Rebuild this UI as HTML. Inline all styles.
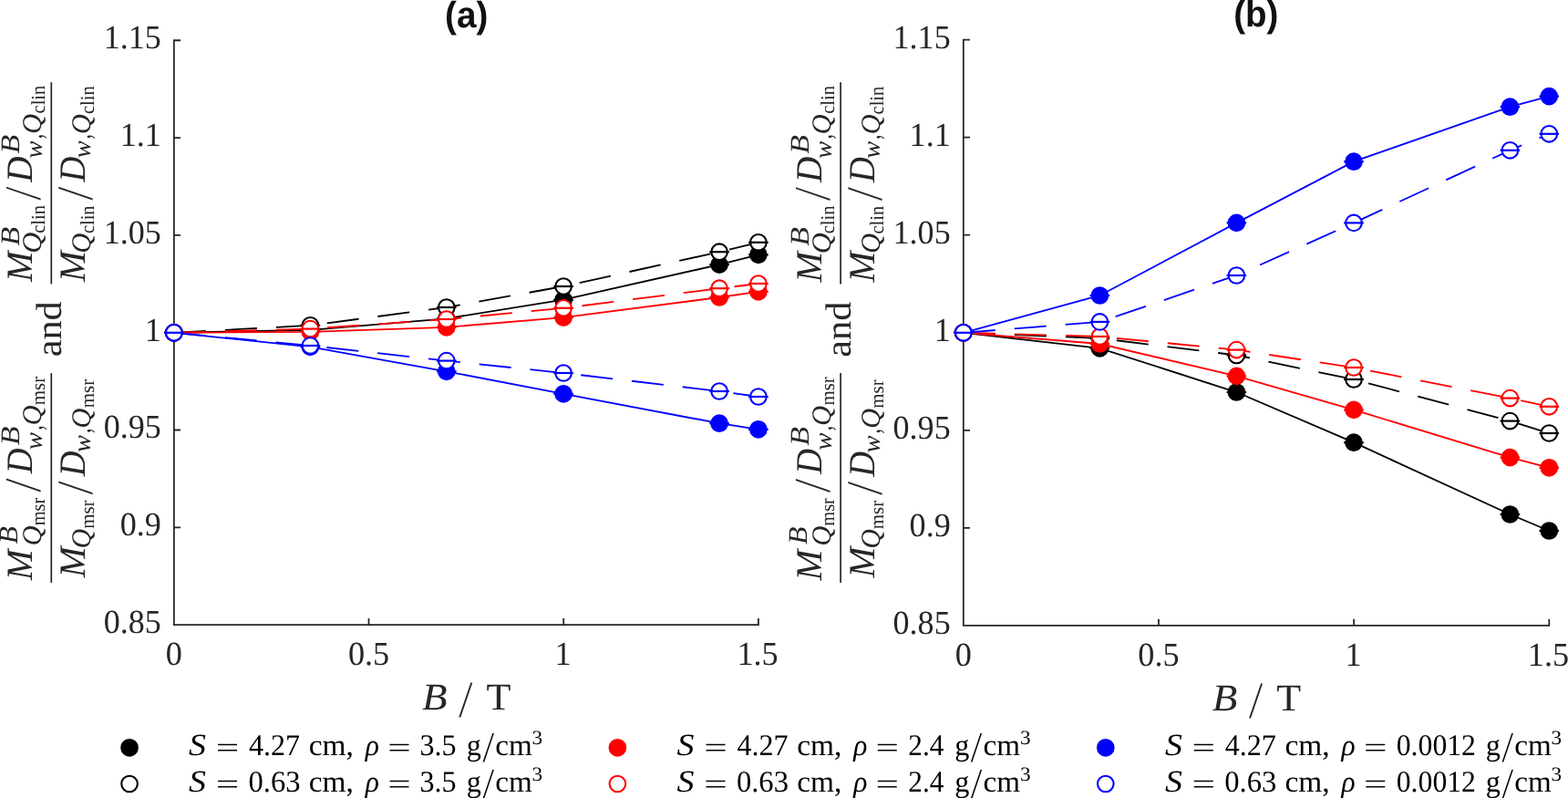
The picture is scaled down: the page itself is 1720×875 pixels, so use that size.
<!DOCTYPE html>
<html lang="en">
<head>
<meta charset="utf-8">
<title>Figure</title>
<style>
html,body{margin:0;padding:0;background:#fff;}
body{width:1720px;height:875px;overflow:hidden;}
svg{display:block;}
text{white-space:pre;text-rendering:geometricPrecision;}
.r{font-family:"Liberation Serif","DejaVu Serif",serif;}
.i{font-family:"Liberation Serif","DejaVu Serif",serif;font-style:italic;}
.b{font-family:"Liberation Sans","DejaVu Sans",sans-serif;font-weight:bold;}
</style>
</head>
<body>
<svg width="1720" height="875" viewBox="0 0 1720 875">
<rect width="1720" height="875" fill="#fff"/>
<g id="panel-a">
<path d="M198.05 44.25H190.85V685.1H831.9V677.9M190.85 151.06h7.2M190.85 257.87h7.2M190.85 364.68h7.2M190.85 471.48h7.2M190.85 578.29h7.2M404.53 685.1v-7.2M618.22 685.1v-7.2" fill="none" stroke="#262626" stroke-width="1.8" stroke-linejoin="miter"/>
<g stroke="#000000" fill="#000000">
<polyline points="190.85,364.8 340.4,361.8 489.8,349.3 618.1,328.7 789.1,290.1 831.9,279.3" fill="none" stroke-width="1.85"/>
<circle cx="190.85" cy="364.8" r="8.8" stroke-width="2.1"/>
<path d="M180.05 364.8h21.6" stroke-width="2.2"/>
<circle cx="340.4" cy="361.8" r="8.8" stroke-width="2.1"/>
<path d="M329.6 361.8h21.6" stroke-width="2.2"/>
<circle cx="489.8" cy="349.3" r="8.8" stroke-width="2.1"/>
<path d="M479 349.3h21.6" stroke-width="2.2"/>
<circle cx="618.1" cy="328.7" r="8.8" stroke-width="2.1"/>
<path d="M607.3 328.7h21.6" stroke-width="2.2"/>
<circle cx="789.1" cy="290.1" r="8.8" stroke-width="2.1"/>
<path d="M778.3 290.1h21.6" stroke-width="2.2"/>
<circle cx="831.9" cy="279.3" r="8.8" stroke-width="2.1"/>
<path d="M821.1 279.3h21.6" stroke-width="2.2"/>
</g>
<g stroke="#000000" fill="#fff">
<polyline points="190.85,364.8 340.4,356.8 489.8,337 618.1,314 789.1,276.2 831.9,265.8" fill="none" stroke-width="1.85" stroke-dasharray="35.1 21"/>
<circle cx="190.85" cy="364.8" r="8.8" stroke-width="2.1"/>
<path d="M180.05 364.8h21.6" stroke-width="2.2"/>
<circle cx="340.4" cy="356.8" r="8.8" stroke-width="2.1"/>
<path d="M329.6 356.8h21.6" stroke-width="2.2"/>
<circle cx="489.8" cy="337" r="8.8" stroke-width="2.1"/>
<path d="M479 337h21.6" stroke-width="2.2"/>
<circle cx="618.1" cy="314" r="8.8" stroke-width="2.1"/>
<path d="M607.3 314h21.6" stroke-width="2.2"/>
<circle cx="789.1" cy="276.2" r="8.8" stroke-width="2.1"/>
<path d="M778.3 276.2h21.6" stroke-width="2.2"/>
<circle cx="831.9" cy="265.8" r="8.8" stroke-width="2.1"/>
<path d="M821.1 265.8h21.6" stroke-width="2.2"/>
</g>
<g stroke="#ff0000" fill="#ff0000">
<polyline points="190.85,364.8 340.4,363.8 489.8,358.8 618.1,348.1 789.1,326 831.9,319.8" fill="none" stroke-width="1.85"/>
<circle cx="190.85" cy="364.8" r="8.8" stroke-width="2.1"/>
<path d="M180.05 364.8h21.6" stroke-width="2.2"/>
<circle cx="340.4" cy="363.8" r="8.8" stroke-width="2.1"/>
<path d="M329.6 363.8h21.6" stroke-width="2.2"/>
<circle cx="489.8" cy="358.8" r="8.8" stroke-width="2.1"/>
<path d="M479 358.8h21.6" stroke-width="2.2"/>
<circle cx="618.1" cy="348.1" r="8.8" stroke-width="2.1"/>
<path d="M607.3 348.1h21.6" stroke-width="2.2"/>
<circle cx="789.1" cy="326" r="8.8" stroke-width="2.1"/>
<path d="M778.3 326h21.6" stroke-width="2.2"/>
<circle cx="831.9" cy="319.8" r="8.8" stroke-width="2.1"/>
<path d="M821.1 319.8h21.6" stroke-width="2.2"/>
</g>
<g stroke="#ff0000" fill="#fff">
<polyline points="190.85,364.8 340.4,360.6 489.8,350 618.1,337.8 789.1,316.2 831.9,311" fill="none" stroke-width="1.85" stroke-dasharray="35.1 21"/>
<circle cx="190.85" cy="364.8" r="8.8" stroke-width="2.1"/>
<path d="M180.05 364.8h21.6" stroke-width="2.2"/>
<circle cx="340.4" cy="360.6" r="8.8" stroke-width="2.1"/>
<path d="M329.6 360.6h21.6" stroke-width="2.2"/>
<circle cx="489.8" cy="350" r="8.8" stroke-width="2.1"/>
<path d="M479 350h21.6" stroke-width="2.2"/>
<circle cx="618.1" cy="337.8" r="8.8" stroke-width="2.1"/>
<path d="M607.3 337.8h21.6" stroke-width="2.2"/>
<circle cx="789.1" cy="316.2" r="8.8" stroke-width="2.1"/>
<path d="M778.3 316.2h21.6" stroke-width="2.2"/>
<circle cx="831.9" cy="311" r="8.8" stroke-width="2.1"/>
<path d="M821.1 311h21.6" stroke-width="2.2"/>
</g>
<g stroke="#0000ff" fill="#0000ff">
<polyline points="190.85,364.8 340.4,380.4 489.8,407.3 618.1,431.8 789.1,464.2 831.9,470.8" fill="none" stroke-width="1.85"/>
<circle cx="190.85" cy="364.8" r="8.8" stroke-width="2.1"/>
<path d="M180.05 364.8h21.6" stroke-width="2.2"/>
<circle cx="340.4" cy="380.4" r="8.8" stroke-width="2.1"/>
<path d="M329.6 380.4h21.6" stroke-width="2.2"/>
<circle cx="489.8" cy="407.3" r="8.8" stroke-width="2.1"/>
<path d="M479 407.3h21.6" stroke-width="2.2"/>
<circle cx="618.1" cy="431.8" r="8.8" stroke-width="2.1"/>
<path d="M607.3 431.8h21.6" stroke-width="2.2"/>
<circle cx="789.1" cy="464.2" r="8.8" stroke-width="2.1"/>
<path d="M778.3 464.2h21.6" stroke-width="2.2"/>
<circle cx="831.9" cy="470.8" r="8.8" stroke-width="2.1"/>
<path d="M821.1 470.8h21.6" stroke-width="2.2"/>
</g>
<g stroke="#0000ff" fill="#fff">
<polyline points="190.85,364.8 340.4,379 489.8,395.6 618.1,409 789.1,429 831.9,435" fill="none" stroke-width="1.85" stroke-dasharray="35.1 21"/>
<circle cx="190.85" cy="364.8" r="8.8" stroke-width="2.1"/>
<path d="M180.05 364.8h21.6" stroke-width="2.2"/>
<circle cx="340.4" cy="379" r="8.8" stroke-width="2.1"/>
<path d="M329.6 379h21.6" stroke-width="2.2"/>
<circle cx="489.8" cy="395.6" r="8.8" stroke-width="2.1"/>
<path d="M479 395.6h21.6" stroke-width="2.2"/>
<circle cx="618.1" cy="409" r="8.8" stroke-width="2.1"/>
<path d="M607.3 409h21.6" stroke-width="2.2"/>
<circle cx="789.1" cy="429" r="8.8" stroke-width="2.1"/>
<path d="M778.3 429h21.6" stroke-width="2.2"/>
<circle cx="831.9" cy="435" r="8.8" stroke-width="2.1"/>
<path d="M821.1 435h21.6" stroke-width="2.2"/>
</g>
</g>
<g id="panel-b">
<path d="M1064 43.6H1056.8V685.9H1699.3V678.7M1056.8 150.65h7.2M1056.8 257.7h7.2M1056.8 364.75h7.2M1056.8 471.8h7.2M1056.8 578.85h7.2M1270.97 685.9v-7.2M1485.13 685.9v-7.2" fill="none" stroke="#262626" stroke-width="1.8" stroke-linejoin="miter"/>
<g stroke="#000000" fill="#000000">
<polyline points="1056.8,364.8 1206.4,381.8 1356.4,430 1485,485.2 1656.4,564 1699.3,582" fill="none" stroke-width="1.85"/>
<circle cx="1056.8" cy="364.8" r="8.8" stroke-width="2.1"/>
<path d="M1046 364.8h21.6" stroke-width="2.2"/>
<circle cx="1206.4" cy="381.8" r="8.8" stroke-width="2.1"/>
<path d="M1195.6 381.8h21.6" stroke-width="2.2"/>
<circle cx="1356.4" cy="430" r="8.8" stroke-width="2.1"/>
<path d="M1345.6 430h21.6" stroke-width="2.2"/>
<circle cx="1485" cy="485.2" r="8.8" stroke-width="2.1"/>
<path d="M1474.2 485.2h21.6" stroke-width="2.2"/>
<circle cx="1656.4" cy="564" r="8.8" stroke-width="2.1"/>
<path d="M1645.6 564h21.6" stroke-width="2.2"/>
<circle cx="1699.3" cy="582" r="8.8" stroke-width="2.1"/>
<path d="M1688.5 582h21.6" stroke-width="2.2"/>
</g>
<g stroke="#000000" fill="#fff">
<polyline points="1056.8,364.8 1206.4,371 1356.4,389.5 1485,416 1656.4,461.6 1699.3,475" fill="none" stroke-width="1.85" stroke-dasharray="35.1 21"/>
<circle cx="1056.8" cy="364.8" r="8.8" stroke-width="2.1"/>
<path d="M1046 364.8h21.6" stroke-width="2.2"/>
<circle cx="1206.4" cy="371" r="8.8" stroke-width="2.1"/>
<path d="M1195.6 371h21.6" stroke-width="2.2"/>
<circle cx="1356.4" cy="389.5" r="8.8" stroke-width="2.1"/>
<path d="M1345.6 389.5h21.6" stroke-width="2.2"/>
<circle cx="1485" cy="416" r="8.8" stroke-width="2.1"/>
<path d="M1474.2 416h21.6" stroke-width="2.2"/>
<circle cx="1656.4" cy="461.6" r="8.8" stroke-width="2.1"/>
<path d="M1645.6 461.6h21.6" stroke-width="2.2"/>
<circle cx="1699.3" cy="475" r="8.8" stroke-width="2.1"/>
<path d="M1688.5 475h21.6" stroke-width="2.2"/>
</g>
<g stroke="#ff0000" fill="#ff0000">
<polyline points="1056.8,364.8 1206.4,377 1356.4,412.4 1485,449.4 1656.4,501.6 1699.3,512.8" fill="none" stroke-width="1.85"/>
<circle cx="1056.8" cy="364.8" r="8.8" stroke-width="2.1"/>
<path d="M1046 364.8h21.6" stroke-width="2.2"/>
<circle cx="1206.4" cy="377" r="8.8" stroke-width="2.1"/>
<path d="M1195.6 377h21.6" stroke-width="2.2"/>
<circle cx="1356.4" cy="412.4" r="8.8" stroke-width="2.1"/>
<path d="M1345.6 412.4h21.6" stroke-width="2.2"/>
<circle cx="1485" cy="449.4" r="8.8" stroke-width="2.1"/>
<path d="M1474.2 449.4h21.6" stroke-width="2.2"/>
<circle cx="1656.4" cy="501.6" r="8.8" stroke-width="2.1"/>
<path d="M1645.6 501.6h21.6" stroke-width="2.2"/>
<circle cx="1699.3" cy="512.8" r="8.8" stroke-width="2.1"/>
<path d="M1688.5 512.8h21.6" stroke-width="2.2"/>
</g>
<g stroke="#ff0000" fill="#fff">
<polyline points="1056.8,364.8 1206.4,369 1356.4,383.6 1485,403 1656.4,436.6 1699.3,445.8" fill="none" stroke-width="1.85" stroke-dasharray="35.1 21"/>
<circle cx="1056.8" cy="364.8" r="8.8" stroke-width="2.1"/>
<path d="M1046 364.8h21.6" stroke-width="2.2"/>
<circle cx="1206.4" cy="369" r="8.8" stroke-width="2.1"/>
<path d="M1195.6 369h21.6" stroke-width="2.2"/>
<circle cx="1356.4" cy="383.6" r="8.8" stroke-width="2.1"/>
<path d="M1345.6 383.6h21.6" stroke-width="2.2"/>
<circle cx="1485" cy="403" r="8.8" stroke-width="2.1"/>
<path d="M1474.2 403h21.6" stroke-width="2.2"/>
<circle cx="1656.4" cy="436.6" r="8.8" stroke-width="2.1"/>
<path d="M1645.6 436.6h21.6" stroke-width="2.2"/>
<circle cx="1699.3" cy="445.8" r="8.8" stroke-width="2.1"/>
<path d="M1688.5 445.8h21.6" stroke-width="2.2"/>
</g>
<g stroke="#0000ff" fill="#0000ff">
<polyline points="1056.8,364.8 1206.4,324 1356.4,244.4 1485,177.2 1656.4,117.2 1699.3,105.6" fill="none" stroke-width="1.85"/>
<circle cx="1056.8" cy="364.8" r="8.8" stroke-width="2.1"/>
<path d="M1046 364.8h21.6" stroke-width="2.2"/>
<circle cx="1206.4" cy="324" r="8.8" stroke-width="2.1"/>
<path d="M1195.6 324h21.6" stroke-width="2.2"/>
<circle cx="1356.4" cy="244.4" r="8.8" stroke-width="2.1"/>
<path d="M1345.6 244.4h21.6" stroke-width="2.2"/>
<circle cx="1485" cy="177.2" r="8.8" stroke-width="2.1"/>
<path d="M1474.2 177.2h21.6" stroke-width="2.2"/>
<circle cx="1656.4" cy="117.2" r="8.8" stroke-width="2.1"/>
<path d="M1645.6 117.2h21.6" stroke-width="2.2"/>
<circle cx="1699.3" cy="105.6" r="8.8" stroke-width="2.1"/>
<path d="M1688.5 105.6h21.6" stroke-width="2.2"/>
</g>
<g stroke="#0000ff" fill="#fff">
<polyline points="1056.8,364.8 1206.4,352.9 1356.4,302 1485,244.4 1656.4,164.8 1699.3,146.8" fill="none" stroke-width="1.85" stroke-dasharray="35.1 21"/>
<circle cx="1056.8" cy="364.8" r="8.8" stroke-width="2.1"/>
<path d="M1046 364.8h21.6" stroke-width="2.2"/>
<circle cx="1206.4" cy="352.9" r="8.8" stroke-width="2.1"/>
<path d="M1195.6 352.9h21.6" stroke-width="2.2"/>
<circle cx="1356.4" cy="302" r="8.8" stroke-width="2.1"/>
<path d="M1345.6 302h21.6" stroke-width="2.2"/>
<circle cx="1485" cy="244.4" r="8.8" stroke-width="2.1"/>
<path d="M1474.2 244.4h21.6" stroke-width="2.2"/>
<circle cx="1656.4" cy="164.8" r="8.8" stroke-width="2.1"/>
<path d="M1645.6 164.8h21.6" stroke-width="2.2"/>
<circle cx="1699.3" cy="146.8" r="8.8" stroke-width="2.1"/>
<path d="M1688.5 146.8h21.6" stroke-width="2.2"/>
</g>
</g>
<g id="frac-bars" fill="#262626">
<rect x="55.45" y="409.1" width="1.7" height="229.8"/>
<rect x="55.45" y="90.2" width="1.7" height="221.3"/>
<rect x="921.25" y="409.1" width="1.7" height="229.8"/>
<rect x="921.25" y="90.2" width="1.7" height="221.3"/>
</g>
<g id="legend-markers">
<circle cx="142.05" cy="819.8" r="8.8" fill="#000000" stroke="#000000" stroke-width="2.1"/>
<circle cx="142.05" cy="859.5" r="8.8" fill="#fff" stroke="#000000" stroke-width="2.1"/>
<circle cx="677.4" cy="819.8" r="8.8" fill="#ff0000" stroke="#ff0000" stroke-width="2.1"/>
<circle cx="677.4" cy="859.5" r="8.8" fill="#fff" stroke="#ff0000" stroke-width="2.1"/>
<circle cx="1212.8" cy="819.8" r="8.8" fill="#0000ff" stroke="#0000ff" stroke-width="2.1"/>
<circle cx="1212.8" cy="859.5" r="8.8" fill="#fff" stroke="#0000ff" stroke-width="2.1"/>
</g>
<g id="labels" fill="#262626">
<text class="r" x="113.64" y="53" font-size="36.8" textLength="63.11" lengthAdjust="spacingAndGlyphs">1.15</text>
<text class="r" x="131.67" y="160" font-size="36.8" textLength="45.08" lengthAdjust="spacingAndGlyphs">1.1</text>
<text class="r" x="113.64" y="267" font-size="36.8" textLength="63.11" lengthAdjust="spacingAndGlyphs">1.05</text>
<text class="r" x="158.72" y="374" font-size="36.8" textLength="18.03" lengthAdjust="spacingAndGlyphs">1</text>
<text class="r" x="113.64" y="480" font-size="36.8" textLength="63.11" lengthAdjust="spacingAndGlyphs">0.95</text>
<text class="r" x="131.67" y="587" font-size="36.8" textLength="45.08" lengthAdjust="spacingAndGlyphs">0.9</text>
<text class="r" x="113.64" y="694" font-size="36.8" textLength="63.11" lengthAdjust="spacingAndGlyphs">0.85</text>
<text class="r" x="181.79" y="729" font-size="36.8" textLength="18.12" lengthAdjust="spacingAndGlyphs">0</text>
<text class="r" x="381.88" y="729" font-size="36.8" textLength="45.31" lengthAdjust="spacingAndGlyphs">0.5</text>
<text class="r" x="608.59" y="729" font-size="36.8" textLength="18.12" lengthAdjust="spacingAndGlyphs">1</text>
<text class="r" x="808.4" y="729" font-size="36.8" textLength="45.31" lengthAdjust="spacingAndGlyphs">1.5</text>
<text class="r" x="979.59" y="53" font-size="36.8" textLength="63.11" lengthAdjust="spacingAndGlyphs">1.15</text>
<text class="r" x="997.62" y="160" font-size="36.8" textLength="45.08" lengthAdjust="spacingAndGlyphs">1.1</text>
<text class="r" x="979.59" y="267" font-size="36.8" textLength="63.11" lengthAdjust="spacingAndGlyphs">1.05</text>
<text class="r" x="1024.67" y="374" font-size="36.8" textLength="18.03" lengthAdjust="spacingAndGlyphs">1</text>
<text class="r" x="979.59" y="481" font-size="36.8" textLength="63.11" lengthAdjust="spacingAndGlyphs">0.95</text>
<text class="r" x="997.62" y="588" font-size="36.8" textLength="45.08" lengthAdjust="spacingAndGlyphs">0.9</text>
<text class="r" x="979.59" y="695" font-size="36.8" textLength="63.11" lengthAdjust="spacingAndGlyphs">0.85</text>
<text class="r" x="1047.74" y="730" font-size="36.8" textLength="18.12" lengthAdjust="spacingAndGlyphs">0</text>
<text class="r" x="1248.31" y="730" font-size="36.8" textLength="45.31" lengthAdjust="spacingAndGlyphs">0.5</text>
<text class="r" x="1475.5" y="730" font-size="36.8" textLength="18.12" lengthAdjust="spacingAndGlyphs">1</text>
<text class="r" x="1675.8" y="730" font-size="36.8" textLength="45.31" lengthAdjust="spacingAndGlyphs">1.5</text>
<text class="r" transform="rotate(-90)"><tspan x="-636.17" y="35" font-size="40.5" textLength="33.83" lengthAdjust="spacingAndGlyphs" font-style="italic">M</tspan><tspan x="-596.6" y="19" font-size="29.5" textLength="19.44" lengthAdjust="spacingAndGlyphs" font-style="italic">B</tspan><tspan x="-598.44" y="45" font-size="30" textLength="22.14" lengthAdjust="spacingAndGlyphs" font-style="italic">Q</tspan><tspan x="-576.32" y="49" font-size="21.5" textLength="30.62" lengthAdjust="spacingAndGlyphs">msr</tspan><tspan x="-537.85" y="44" font-size="56.29" textLength="10.4" lengthAdjust="spacingAndGlyphs" font-style="italic">/</tspan><tspan x="-519.3" y="35" font-size="40.5" textLength="27.73" lengthAdjust="spacingAndGlyphs" font-style="italic">D</tspan><tspan x="-488.3" y="21" font-size="29.5" textLength="20.78" lengthAdjust="spacingAndGlyphs" font-style="italic">B</tspan><tspan x="-493.25" y="46" font-size="27.5" textLength="19.31" lengthAdjust="spacingAndGlyphs" font-style="italic">w</tspan><tspan x="-471.78" y="46" font-size="33" textLength="5.44" lengthAdjust="spacingAndGlyphs">,</tspan><tspan x="-466.64" y="45" font-size="30" textLength="22.14" lengthAdjust="spacingAndGlyphs" font-style="italic">Q</tspan><tspan x="-444.13" y="49" font-size="21.5" textLength="31.23" lengthAdjust="spacingAndGlyphs">msr</tspan> <tspan x="-633.17" y="93" font-size="40.5" textLength="33.83" lengthAdjust="spacingAndGlyphs" font-style="italic">M</tspan><tspan x="-601.4" y="99" font-size="30" textLength="21.6" lengthAdjust="spacingAndGlyphs" font-style="italic">Q</tspan><tspan x="-579.73" y="103" font-size="21.5" textLength="31.23" lengthAdjust="spacingAndGlyphs">msr</tspan><tspan x="-540.58" y="101" font-size="55.71" textLength="10.19" lengthAdjust="spacingAndGlyphs" font-style="italic">/</tspan><tspan x="-522.3" y="93" font-size="40.5" textLength="27.83" lengthAdjust="spacingAndGlyphs" font-style="italic">D</tspan><tspan x="-496.04" y="99" font-size="27.5" textLength="18.9" lengthAdjust="spacingAndGlyphs" font-style="italic">w</tspan><tspan x="-474.98" y="99" font-size="33" textLength="5.44" lengthAdjust="spacingAndGlyphs">,</tspan><tspan x="-469.74" y="99" font-size="30" textLength="22.14" lengthAdjust="spacingAndGlyphs" font-style="italic">Q</tspan><tspan x="-447.23" y="103" font-size="21.5" textLength="31.33" lengthAdjust="spacingAndGlyphs">msr</tspan> <tspan x="-391.32" y="67" font-size="39.8" textLength="61.02" lengthAdjust="spacingAndGlyphs">and</tspan> <tspan x="-309.07" y="35" font-size="40.5" textLength="33.46" lengthAdjust="spacingAndGlyphs" font-style="italic">M</tspan><tspan x="-269.4" y="21" font-size="29.5" textLength="20.68" lengthAdjust="spacingAndGlyphs" font-style="italic">B</tspan><tspan x="-277.79" y="45" font-size="30" textLength="23" lengthAdjust="spacingAndGlyphs" font-style="italic">Q</tspan><tspan x="-255.84" y="49" font-size="21.5" textLength="30.74" lengthAdjust="spacingAndGlyphs">clin</tspan><tspan x="-217.87" y="44" font-size="56.29" textLength="10.26" lengthAdjust="spacingAndGlyphs" font-style="italic">/</tspan><tspan x="-199.69" y="35" font-size="40.5" textLength="28.22" lengthAdjust="spacingAndGlyphs" font-style="italic">D</tspan><tspan x="-168.4" y="21" font-size="29.5" textLength="20.68" lengthAdjust="spacingAndGlyphs" font-style="italic">B</tspan><tspan x="-173.65" y="46" font-size="27.5" textLength="19.31" lengthAdjust="spacingAndGlyphs" font-style="italic">w</tspan><tspan x="-152.18" y="46" font-size="33" textLength="5.44" lengthAdjust="spacingAndGlyphs">,</tspan><tspan x="-147.04" y="45" font-size="30" textLength="22.14" lengthAdjust="spacingAndGlyphs" font-style="italic">Q</tspan><tspan x="-124.44" y="49" font-size="21.5" textLength="30.74" lengthAdjust="spacingAndGlyphs">clin</tspan> <tspan x="-309.06" y="93" font-size="40.5" textLength="33.92" lengthAdjust="spacingAndGlyphs" font-style="italic">M</tspan><tspan x="-277.74" y="99" font-size="30" textLength="22.14" lengthAdjust="spacingAndGlyphs" font-style="italic">Q</tspan><tspan x="-256.04" y="103" font-size="21.5" textLength="30.54" lengthAdjust="spacingAndGlyphs">clin</tspan><tspan x="-217.78" y="101" font-size="55.71" textLength="10.19" lengthAdjust="spacingAndGlyphs" font-style="italic">/</tspan><tspan x="-199.6" y="93" font-size="40.5" textLength="27.93" lengthAdjust="spacingAndGlyphs" font-style="italic">D</tspan><tspan x="-173.34" y="99" font-size="27.5" textLength="18.9" lengthAdjust="spacingAndGlyphs" font-style="italic">w</tspan><tspan x="-152.48" y="99" font-size="33" textLength="5.44" lengthAdjust="spacingAndGlyphs">,</tspan><tspan x="-147.24" y="99" font-size="30" textLength="22.14" lengthAdjust="spacingAndGlyphs" font-style="italic">Q</tspan><tspan x="-125.04" y="103" font-size="21.5" textLength="30.74" lengthAdjust="spacingAndGlyphs">clin</tspan></text>
<text class="r" transform="rotate(-90)"><tspan x="-636.57" y="901" font-size="40.5" textLength="33.83" lengthAdjust="spacingAndGlyphs" font-style="italic">M</tspan><tspan x="-597" y="885" font-size="29.5" textLength="19.44" lengthAdjust="spacingAndGlyphs" font-style="italic">B</tspan><tspan x="-598.84" y="911" font-size="30" textLength="22.14" lengthAdjust="spacingAndGlyphs" font-style="italic">Q</tspan><tspan x="-576.72" y="915" font-size="21.5" textLength="30.62" lengthAdjust="spacingAndGlyphs">msr</tspan><tspan x="-538.25" y="910" font-size="56.29" textLength="10.4" lengthAdjust="spacingAndGlyphs" font-style="italic">/</tspan><tspan x="-519.7" y="901" font-size="40.5" textLength="27.73" lengthAdjust="spacingAndGlyphs" font-style="italic">D</tspan><tspan x="-488.7" y="887" font-size="29.5" textLength="20.78" lengthAdjust="spacingAndGlyphs" font-style="italic">B</tspan><tspan x="-493.65" y="912" font-size="27.5" textLength="19.31" lengthAdjust="spacingAndGlyphs" font-style="italic">w</tspan><tspan x="-472.18" y="912" font-size="33" textLength="5.44" lengthAdjust="spacingAndGlyphs">,</tspan><tspan x="-467.04" y="911" font-size="30" textLength="22.14" lengthAdjust="spacingAndGlyphs" font-style="italic">Q</tspan><tspan x="-444.53" y="915" font-size="21.5" textLength="31.23" lengthAdjust="spacingAndGlyphs">msr</tspan> <tspan x="-633.57" y="959" font-size="40.5" textLength="33.83" lengthAdjust="spacingAndGlyphs" font-style="italic">M</tspan><tspan x="-601.8" y="965" font-size="30" textLength="21.6" lengthAdjust="spacingAndGlyphs" font-style="italic">Q</tspan><tspan x="-580.13" y="969" font-size="21.5" textLength="31.23" lengthAdjust="spacingAndGlyphs">msr</tspan><tspan x="-540.98" y="967" font-size="55.71" textLength="10.19" lengthAdjust="spacingAndGlyphs" font-style="italic">/</tspan><tspan x="-522.7" y="959" font-size="40.5" textLength="27.83" lengthAdjust="spacingAndGlyphs" font-style="italic">D</tspan><tspan x="-496.44" y="965" font-size="27.5" textLength="18.9" lengthAdjust="spacingAndGlyphs" font-style="italic">w</tspan><tspan x="-475.38" y="965" font-size="33" textLength="5.44" lengthAdjust="spacingAndGlyphs">,</tspan><tspan x="-470.14" y="965" font-size="30" textLength="22.14" lengthAdjust="spacingAndGlyphs" font-style="italic">Q</tspan><tspan x="-447.63" y="969" font-size="21.5" textLength="31.33" lengthAdjust="spacingAndGlyphs">msr</tspan> <tspan x="-391.72" y="933" font-size="39.8" textLength="61.02" lengthAdjust="spacingAndGlyphs">and</tspan> <tspan x="-309.47" y="901" font-size="40.5" textLength="33.46" lengthAdjust="spacingAndGlyphs" font-style="italic">M</tspan><tspan x="-269.8" y="887" font-size="29.5" textLength="20.68" lengthAdjust="spacingAndGlyphs" font-style="italic">B</tspan><tspan x="-278.19" y="911" font-size="30" textLength="23" lengthAdjust="spacingAndGlyphs" font-style="italic">Q</tspan><tspan x="-256.24" y="915" font-size="21.5" textLength="30.74" lengthAdjust="spacingAndGlyphs">clin</tspan><tspan x="-218.27" y="910" font-size="56.29" textLength="10.26" lengthAdjust="spacingAndGlyphs" font-style="italic">/</tspan><tspan x="-200.09" y="901" font-size="40.5" textLength="28.22" lengthAdjust="spacingAndGlyphs" font-style="italic">D</tspan><tspan x="-168.8" y="887" font-size="29.5" textLength="20.68" lengthAdjust="spacingAndGlyphs" font-style="italic">B</tspan><tspan x="-174.05" y="912" font-size="27.5" textLength="19.31" lengthAdjust="spacingAndGlyphs" font-style="italic">w</tspan><tspan x="-152.58" y="912" font-size="33" textLength="5.44" lengthAdjust="spacingAndGlyphs">,</tspan><tspan x="-147.44" y="911" font-size="30" textLength="22.14" lengthAdjust="spacingAndGlyphs" font-style="italic">Q</tspan><tspan x="-124.84" y="915" font-size="21.5" textLength="30.74" lengthAdjust="spacingAndGlyphs">clin</tspan> <tspan x="-309.46" y="959" font-size="40.5" textLength="33.92" lengthAdjust="spacingAndGlyphs" font-style="italic">M</tspan><tspan x="-278.14" y="965" font-size="30" textLength="22.14" lengthAdjust="spacingAndGlyphs" font-style="italic">Q</tspan><tspan x="-256.44" y="969" font-size="21.5" textLength="30.54" lengthAdjust="spacingAndGlyphs">clin</tspan><tspan x="-218.18" y="967" font-size="55.71" textLength="10.19" lengthAdjust="spacingAndGlyphs" font-style="italic">/</tspan><tspan x="-200" y="959" font-size="40.5" textLength="27.93" lengthAdjust="spacingAndGlyphs" font-style="italic">D</tspan><tspan x="-173.74" y="965" font-size="27.5" textLength="18.9" lengthAdjust="spacingAndGlyphs" font-style="italic">w</tspan><tspan x="-152.88" y="965" font-size="33" textLength="5.44" lengthAdjust="spacingAndGlyphs">,</tspan><tspan x="-147.64" y="965" font-size="30" textLength="22.14" lengthAdjust="spacingAndGlyphs" font-style="italic">Q</tspan><tspan x="-125.44" y="969" font-size="21.5" textLength="30.74" lengthAdjust="spacingAndGlyphs">clin</tspan></text>
<text class="r"><tspan x="463.1" y="778" font-size="41.5" textLength="27.57" lengthAdjust="spacingAndGlyphs" font-style="italic">B</tspan> <tspan x="504.97" y="786" font-size="56.87" textLength="10.46" lengthAdjust="spacingAndGlyphs" font-style="italic">/</tspan> <tspan x="533.56" y="778" font-size="41.5" textLength="26.9" lengthAdjust="spacingAndGlyphs">T</tspan></text>
<text class="r"><tspan x="1329.8" y="779" font-size="41.5" textLength="27.57" lengthAdjust="spacingAndGlyphs" font-style="italic">B</tspan> <tspan x="1371.67" y="787" font-size="56.87" textLength="10.46" lengthAdjust="spacingAndGlyphs" font-style="italic">/</tspan> <tspan x="1400.26" y="779" font-size="41.5" textLength="26.9" lengthAdjust="spacingAndGlyphs">T</tspan></text>
<text class="b" fill="#111111" x="488.09" y="30" font-size="40.4" textLength="47.31" lengthAdjust="spacingAndGlyphs">(a)</text>
<text class="b" fill="#111111" x="1353.19" y="29" font-size="40.4" textLength="49.2" lengthAdjust="spacingAndGlyphs">(b)</text>
<text class="r" fill="#000000"><tspan x="207.1" y="828" font-size="34" textLength="18.99" lengthAdjust="spacingAndGlyphs" font-style="italic">S</tspan> <tspan x="236.78" y="830" font-size="31.4" textLength="25.51" lengthAdjust="spacingAndGlyphs">=</tspan> <tspan x="273" y="828" font-size="33" textLength="56.1" lengthAdjust="spacingAndGlyphs">4.27</tspan> <tspan x="338.76" y="828" font-size="33" textLength="49.13" lengthAdjust="spacingAndGlyphs">cm,</tspan> <tspan x="400.79" y="828" font-size="33" textLength="15.16" lengthAdjust="spacingAndGlyphs" font-style="italic">ρ</tspan> <tspan x="425.18" y="830" font-size="31.4" textLength="25.51" lengthAdjust="spacingAndGlyphs">=</tspan> <tspan x="460.4" y="828" font-size="33" textLength="40.11" lengthAdjust="spacingAndGlyphs">3.5</tspan> <tspan x="511.79" y="828" font-size="33" textLength="16.11" lengthAdjust="spacingAndGlyphs">g</tspan><tspan x="530.94" y="835" font-size="46.98" textLength="8.55" lengthAdjust="spacingAndGlyphs" font-style="italic">/</tspan><tspan x="543.16" y="828" font-size="33" textLength="40.54" lengthAdjust="spacingAndGlyphs">cm</tspan><tspan x="583.51" y="816" font-size="22" textLength="11.61" lengthAdjust="spacingAndGlyphs">3</tspan></text>
<text class="r" fill="#000000"><tspan x="207.1" y="868" font-size="34" textLength="18.99" lengthAdjust="spacingAndGlyphs" font-style="italic">S</tspan> <tspan x="236.78" y="870" font-size="31.4" textLength="25.51" lengthAdjust="spacingAndGlyphs">=</tspan> <tspan x="272.48" y="868" font-size="33" textLength="57.14" lengthAdjust="spacingAndGlyphs">0.63</tspan> <tspan x="338.76" y="868" font-size="33" textLength="49.13" lengthAdjust="spacingAndGlyphs">cm,</tspan> <tspan x="400.79" y="868" font-size="33" textLength="15.16" lengthAdjust="spacingAndGlyphs" font-style="italic">ρ</tspan> <tspan x="425.18" y="870" font-size="31.4" textLength="25.51" lengthAdjust="spacingAndGlyphs">=</tspan> <tspan x="460.4" y="868" font-size="33" textLength="40.11" lengthAdjust="spacingAndGlyphs">3.5</tspan> <tspan x="511.79" y="868" font-size="33" textLength="16.11" lengthAdjust="spacingAndGlyphs">g</tspan><tspan x="530.94" y="875" font-size="46.98" textLength="8.55" lengthAdjust="spacingAndGlyphs" font-style="italic">/</tspan><tspan x="543.16" y="868" font-size="33" textLength="40.54" lengthAdjust="spacingAndGlyphs">cm</tspan><tspan x="583.51" y="856" font-size="22" textLength="11.61" lengthAdjust="spacingAndGlyphs">3</tspan></text>
<text class="r" fill="#000000"><tspan x="742.5" y="828" font-size="34" textLength="18.99" lengthAdjust="spacingAndGlyphs" font-style="italic">S</tspan> <tspan x="772.18" y="830" font-size="31.4" textLength="25.51" lengthAdjust="spacingAndGlyphs">=</tspan> <tspan x="808.4" y="828" font-size="33" textLength="56.1" lengthAdjust="spacingAndGlyphs">4.27</tspan> <tspan x="874.16" y="828" font-size="33" textLength="49.13" lengthAdjust="spacingAndGlyphs">cm,</tspan> <tspan x="936.19" y="828" font-size="33" textLength="15.16" lengthAdjust="spacingAndGlyphs" font-style="italic">ρ</tspan> <tspan x="960.58" y="830" font-size="31.4" textLength="25.51" lengthAdjust="spacingAndGlyphs">=</tspan> <tspan x="996.32" y="828" font-size="33" textLength="39.06" lengthAdjust="spacingAndGlyphs">2.4</tspan> <tspan x="1047.19" y="828" font-size="33" textLength="16.11" lengthAdjust="spacingAndGlyphs">g</tspan><tspan x="1066.34" y="835" font-size="46.98" textLength="8.55" lengthAdjust="spacingAndGlyphs" font-style="italic">/</tspan><tspan x="1078.56" y="828" font-size="33" textLength="40.54" lengthAdjust="spacingAndGlyphs">cm</tspan><tspan x="1118.91" y="816" font-size="22" textLength="11.61" lengthAdjust="spacingAndGlyphs">3</tspan></text>
<text class="r" fill="#000000"><tspan x="742.5" y="868" font-size="34" textLength="18.99" lengthAdjust="spacingAndGlyphs" font-style="italic">S</tspan> <tspan x="772.18" y="870" font-size="31.4" textLength="25.51" lengthAdjust="spacingAndGlyphs">=</tspan> <tspan x="807.88" y="868" font-size="33" textLength="57.14" lengthAdjust="spacingAndGlyphs">0.63</tspan> <tspan x="874.16" y="868" font-size="33" textLength="49.13" lengthAdjust="spacingAndGlyphs">cm,</tspan> <tspan x="936.19" y="868" font-size="33" textLength="15.16" lengthAdjust="spacingAndGlyphs" font-style="italic">ρ</tspan> <tspan x="960.58" y="870" font-size="31.4" textLength="25.51" lengthAdjust="spacingAndGlyphs">=</tspan> <tspan x="996.32" y="868" font-size="33" textLength="39.06" lengthAdjust="spacingAndGlyphs">2.4</tspan> <tspan x="1047.19" y="868" font-size="33" textLength="16.11" lengthAdjust="spacingAndGlyphs">g</tspan><tspan x="1066.34" y="875" font-size="46.98" textLength="8.55" lengthAdjust="spacingAndGlyphs" font-style="italic">/</tspan><tspan x="1078.56" y="868" font-size="33" textLength="40.54" lengthAdjust="spacingAndGlyphs">cm</tspan><tspan x="1118.91" y="856" font-size="22" textLength="11.61" lengthAdjust="spacingAndGlyphs">3</tspan></text>
<text class="r" fill="#000000"><tspan x="1277.9" y="828" font-size="34" textLength="18.99" lengthAdjust="spacingAndGlyphs" font-style="italic">S</tspan> <tspan x="1307.58" y="830" font-size="31.4" textLength="25.51" lengthAdjust="spacingAndGlyphs">=</tspan> <tspan x="1343.8" y="828" font-size="33" textLength="56.1" lengthAdjust="spacingAndGlyphs">4.27</tspan> <tspan x="1409.56" y="828" font-size="33" textLength="49.13" lengthAdjust="spacingAndGlyphs">cm,</tspan> <tspan x="1471.59" y="828" font-size="33" textLength="15.16" lengthAdjust="spacingAndGlyphs" font-style="italic">ρ</tspan> <tspan x="1495.98" y="830" font-size="31.4" textLength="25.51" lengthAdjust="spacingAndGlyphs">=</tspan> <tspan x="1531.71" y="828" font-size="33" textLength="87.28" lengthAdjust="spacingAndGlyphs">0.0012</tspan> <tspan x="1629.79" y="828" font-size="33" textLength="16.11" lengthAdjust="spacingAndGlyphs">g</tspan><tspan x="1648.94" y="835" font-size="46.98" textLength="8.55" lengthAdjust="spacingAndGlyphs" font-style="italic">/</tspan><tspan x="1661.16" y="828" font-size="33" textLength="40.54" lengthAdjust="spacingAndGlyphs">cm</tspan><tspan x="1701.51" y="816" font-size="22" textLength="11.61" lengthAdjust="spacingAndGlyphs">3</tspan></text>
<text class="r" fill="#000000"><tspan x="1277.9" y="868" font-size="34" textLength="18.99" lengthAdjust="spacingAndGlyphs" font-style="italic">S</tspan> <tspan x="1307.58" y="870" font-size="31.4" textLength="25.51" lengthAdjust="spacingAndGlyphs">=</tspan> <tspan x="1343.28" y="868" font-size="33" textLength="57.14" lengthAdjust="spacingAndGlyphs">0.63</tspan> <tspan x="1409.56" y="868" font-size="33" textLength="49.13" lengthAdjust="spacingAndGlyphs">cm,</tspan> <tspan x="1471.59" y="868" font-size="33" textLength="15.16" lengthAdjust="spacingAndGlyphs" font-style="italic">ρ</tspan> <tspan x="1495.98" y="870" font-size="31.4" textLength="25.51" lengthAdjust="spacingAndGlyphs">=</tspan> <tspan x="1531.71" y="868" font-size="33" textLength="87.28" lengthAdjust="spacingAndGlyphs">0.0012</tspan> <tspan x="1629.79" y="868" font-size="33" textLength="16.11" lengthAdjust="spacingAndGlyphs">g</tspan><tspan x="1648.94" y="875" font-size="46.98" textLength="8.55" lengthAdjust="spacingAndGlyphs" font-style="italic">/</tspan><tspan x="1661.16" y="868" font-size="33" textLength="40.54" lengthAdjust="spacingAndGlyphs">cm</tspan><tspan x="1701.51" y="856" font-size="22" textLength="11.61" lengthAdjust="spacingAndGlyphs">3</tspan></text>
</g>
</svg>
</body>
</html>
